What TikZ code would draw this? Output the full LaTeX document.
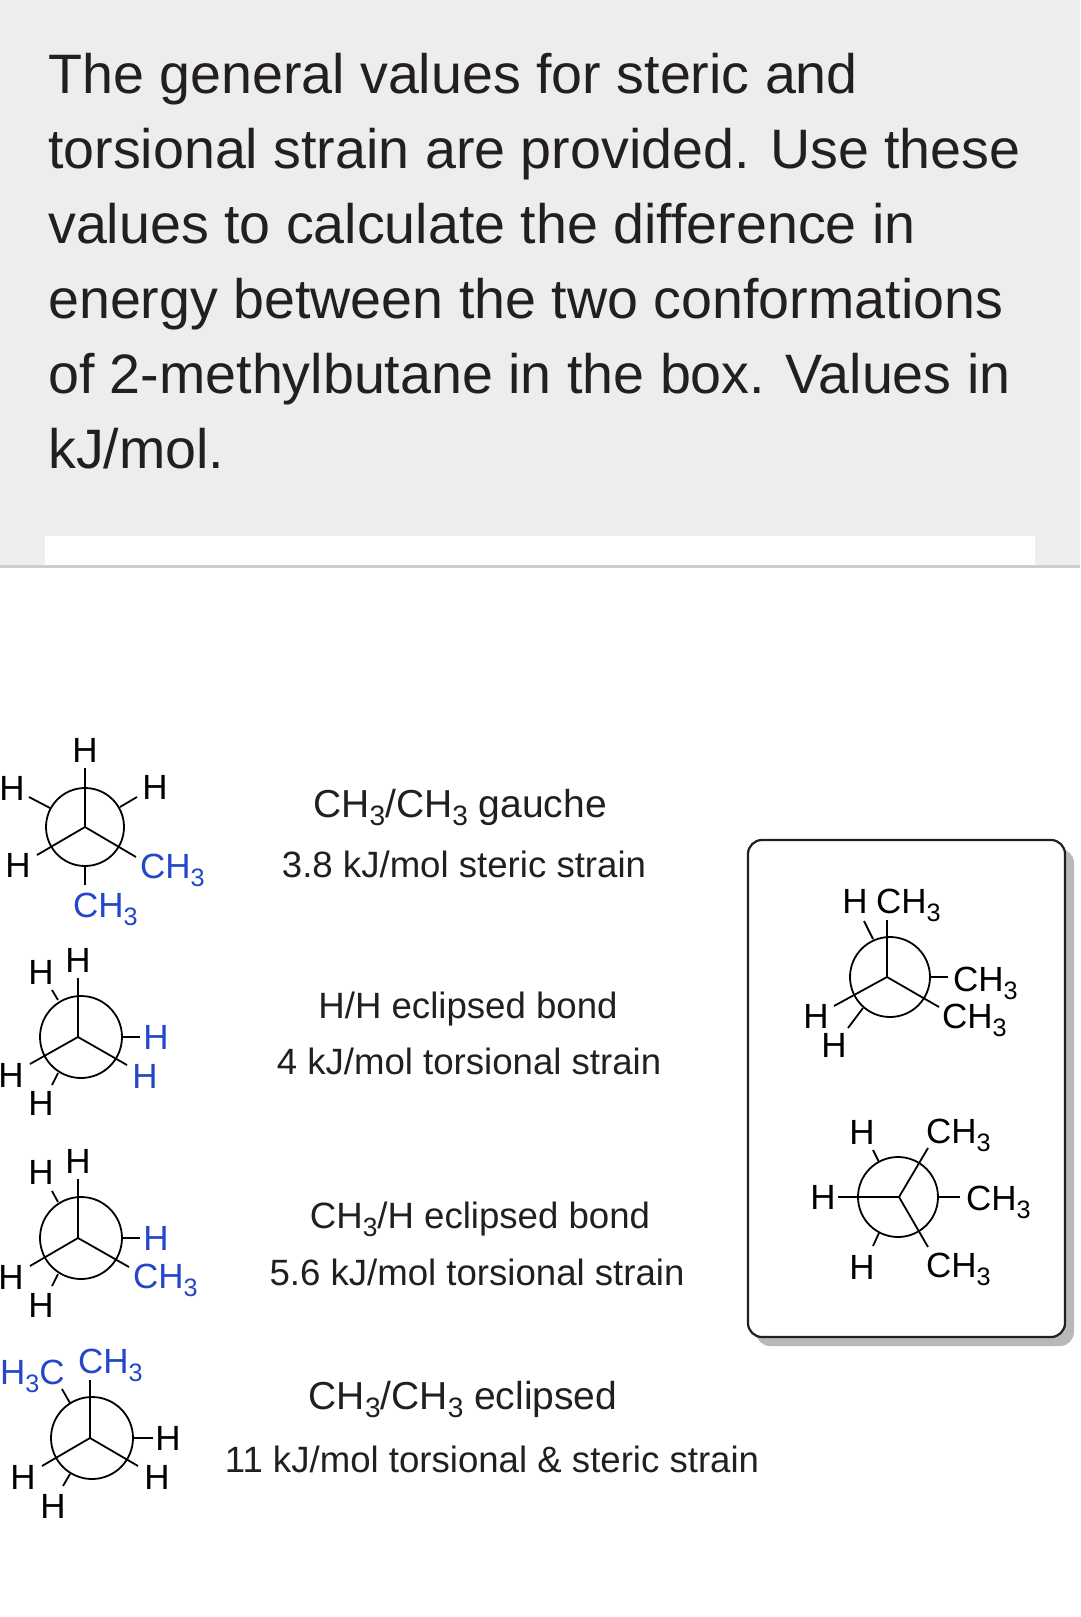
\documentclass[tikz,border=0pt]{standalone}
\usepackage{fontspec}
\setmainfont{Liberation Sans}
\definecolor{panelgray}{HTML}{EDEDED}
\definecolor{rulegray}{HTML}{CDCDCD}
\definecolor{inkgray}{HTML}{231F20}
\definecolor{shadowgray}{HTML}{B8B8B8}
\definecolor{methylblue}{HTML}{2446C8}
\newcommand{\subthree}{\raisebox{-0.23em}{\scalebox{0.72}{3}}}
\newcommand{\chthree}{CH\subthree}
\newcommand{\hhhc}{H\subthree C}
\tikzset{
  atom/.style = {inner sep = 0, outer sep = 0, font = \fontsize{35}{35}\selectfont},
  ch/.style = {atom, anchor = base west},
  info/.style = {inner sep = 0, outer sep = 0, text = inkgray, anchor = base, font = \fontsize{36.6}{36.6}\selectfont},
  infobig/.style = {info, font = \fontsize{39}{39}\selectfont},
  bond/.style = {line width = 1.8pt, black}
}
\begin{document}
\begin{tikzpicture}[x = 1pt, y = -1pt]
\useasboundingbox (0, 0) rectangle (1080, 1617);
\fill[white] (0, 0) rectangle (1080, 1617);
\fill[panelgray] (0, 0) rectangle (1080, 565);
\fill[white] (45, 536) rectangle (1035, 565);
\fill[rulegray] (0, 565) rectangle (1080, 568);
\node[inner sep = 0, anchor = base west, align = left, text = inkgray, font = \fontsize{55.6}{75}\selectfont] (question) at (48, 468)
  {The general values for steric and\\torsional strain are provided. Use these\\values to calculate the difference in\\energy between the two conformations\\of 2-methylbutane in the box. Values in\\kJ/mol.};

\node[infobig] (gauchetitle) at (460, 817) {\chthree/\chthree{} gauche};
\node[info] (gaucheval) at (464, 877) {3.8 kJ/mol steric strain};
\node[info] (hhtitle) at (468, 1018) {H/H eclipsed bond};
\node[info] (hhval) at (469, 1074) {4 kJ/mol torsional strain};
\node[info] (chhtitle) at (480, 1228) {\chthree/H eclipsed bond};
\node[info] (chhval) at (477, 1285) {5.6 kJ/mol torsional strain};
\node[infobig] (chchtitle) at (463, 1409) {\chthree/\chthree{} eclipsed};
\node[info] (chchval) at (492, 1472) {11 kJ/mol torsional \& steric strain};

\draw[bond] (85, 827) circle (39);
\draw[bond] (85, 827) -- (85, 768);
\draw[bond] (85, 827) -- (136, 857);
\draw[bond] (85, 827) -- (37, 855);
\draw[bond] (50, 808) -- (29, 797);
\draw[bond] (120, 807) -- (137, 797);
\draw[bond] (85, 867) -- (85, 885);
\node[atom] (a1) at (85, 750) {H};
\node[atom] (a2) at (12, 788) {H};
\node[atom] (a3) at (155, 787) {H};
\node[atom] (a4) at (18, 865) {H};
\node[ch, text = methylblue] (a5) at (140, 878) {\chthree};
\node[ch, text = methylblue] (a6) at (73, 917) {\chthree};

\draw[bond] (81, 1037) circle (41);
\draw[bond] (78, 1037) -- (78, 978);
\draw[bond] (78, 1037) -- (127, 1065);
\draw[bond] (78, 1037) -- (30, 1064);
\draw[bond] (58, 1000) -- (52, 990);
\draw[bond] (122, 1037) -- (140, 1037);
\draw[bond] (58, 1073) -- (52, 1085);
\node[atom] (b1) at (41, 972) {H};
\node[atom] (b2) at (78, 960) {H};
\node[atom, text = methylblue] (b3) at (156, 1037) {H};
\node[atom, text = methylblue] (b4) at (145, 1076) {H};
\node[atom] (b5) at (11, 1075) {H};
\node[atom] (b6) at (41, 1103) {H};

\draw[bond] (81, 1238) circle (41);
\draw[bond] (78, 1238) -- (78, 1179);
\draw[bond] (78, 1238) -- (129, 1267);
\draw[bond] (78, 1238) -- (30, 1266);
\draw[bond] (58, 1202) -- (52, 1191);
\draw[bond] (122, 1238) -- (140, 1238);
\draw[bond] (58, 1274) -- (52, 1286);
\node[atom] (c1) at (41, 1172) {H};
\node[atom] (c2) at (78, 1161) {H};
\node[atom, text = methylblue] (c3) at (156, 1238) {H};
\node[ch, text = methylblue] (c4) at (133, 1288) {\chthree};
\node[atom] (c5) at (11, 1277) {H};
\node[atom] (c6) at (41, 1305) {H};

\draw[bond] (92, 1438) circle (41);
\draw[bond] (90, 1438) -- (90, 1380);
\draw[bond] (90, 1438) -- (138, 1466);
\draw[bond] (90, 1438) -- (42, 1466);
\draw[bond] (70, 1403) -- (62, 1389);
\draw[bond] (134, 1438) -- (153, 1438);
\draw[bond] (70, 1474) -- (63, 1486);
\node[ch, text = methylblue] (d1) at (0, 1384) {\hhhc};
\node[ch, text = methylblue] (d2) at (78, 1373) {\chthree};
\node[atom] (d3) at (168, 1438) {H};
\node[atom] (d4) at (157, 1477) {H};
\node[atom] (d5) at (23, 1477) {H};
\node[atom] (d6) at (53, 1506) {H};

\fill[shadowgray, rounded corners = 14pt] (756, 849) rectangle (1074, 1346);
\draw[fill = white, draw = inkgray, line width = 2.2pt, rounded corners = 14pt] (748, 840) rectangle (1065, 1337);

\draw[bond] (890, 977) circle (40);
\draw[bond] (887, 977) -- (887, 920);
\draw[bond] (887, 977) -- (939, 1007);
\draw[bond] (887, 977) -- (834, 1006);
\draw[bond] (873, 939) -- (864, 921);
\draw[bond] (930, 977) -- (948, 977);
\draw[bond] (863, 1008) -- (848, 1028);
\node[atom] (e1) at (855, 901) {H};
\node[ch] (e2) at (876, 913) {\chthree};
\node[ch] (e3) at (953, 991) {\chthree};
\node[ch] (e4) at (942, 1028) {\chthree};
\node[atom] (e5) at (816, 1016) {H};
\node[atom] (e6) at (834, 1045) {H};

\draw[bond] (898, 1197) circle (40);
\draw[bond] (899, 1197) -- (838, 1197);
\draw[bond] (899, 1197) -- (928, 1148);
\draw[bond] (899, 1197) -- (928, 1247);
\draw[bond] (879, 1162) -- (873, 1150);
\draw[bond] (938, 1197) -- (960, 1197);
\draw[bond] (879, 1233) -- (873, 1246);
\node[atom] (g1) at (862, 1132) {H};
\node[ch] (g2) at (926, 1143) {\chthree};
\node[atom] (g3) at (823, 1197) {H};
\node[ch] (g4) at (966, 1210) {\chthree};
\node[atom] (g5) at (862, 1267) {H};
\node[ch] (g6) at (926, 1277) {\chthree};
\end{tikzpicture}
\end{document}
